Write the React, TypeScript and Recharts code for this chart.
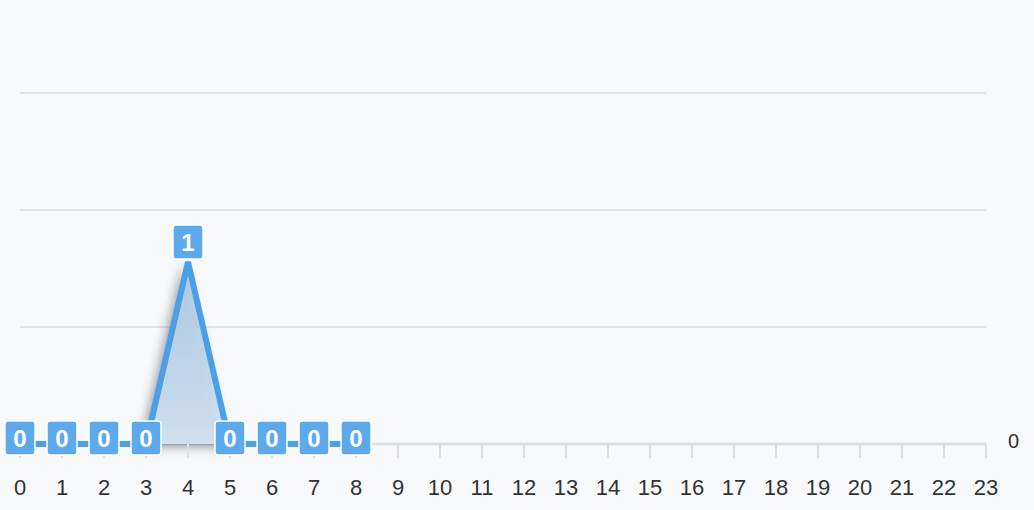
import { ComposedChart, Area, Line, XAxis, YAxis, CartesianGrid } from 'recharts'

// hour of day -> events; only the first nine hours have readings
const hours = Array.from({ length: 24 }, (_, i) => String(i))
const counts: (number | null)[] = [0, 0, 0, 0, 1, 0, 0, 0, 0]
const yTicks = [0, 0.643, 1.286, 1.929]
const baseline = [0]

const data = hours.map((h, i) => ({ hour: h, count: i < counts.length ? counts[i] : null }))

const BLUE = '#4a9fe6'
const FONT = "'Liberation Sans', Arial, sans-serif"

const ValueBadge = (props: any) => {
  const { x, y, value } = props
  if (value === null || value === undefined || x == null || y == null) return null
  const cy = value > 0 ? y - 20 : y - 6
  return (
    <g>
      <rect x={x - 15} y={cy - 17} width={30} height={34} rx={3} fill="#5ea8ec" stroke="#fff" strokeWidth={1.5} />
      <text x={x} y={cy} textAnchor="middle" dominantBaseline="central"
        fill="#fff" fontSize={24} fontWeight="bold" fontFamily={FONT}>
        {value}
      </text>
    </g>
  )
}

export default function App() {
  return (
    <div style={{ position: 'fixed', left: 0, top: 0, width: 1034, height: 510, background: '#f8f9fb' }}>
      <ComposedChart width={1034} height={510} data={data}
        margin={{ top: 93, right: 0, left: 20, bottom: 0 }}>
        <defs>
          <linearGradient id="areaFill" x1="0" y1="0" x2="0" y2="1">
            <stop offset="0%" stopColor="#a9c6e2" stopOpacity={0.9} />
            <stop offset="100%" stopColor="#cfe1f2" stopOpacity={0.95} />
          </linearGradient>
          <filter id="areaShadow" x="-80%" y="-20%" width="260%" height="140%">
            <feDropShadow dx={-5} dy={2} stdDeviation={6} floodColor="#000" floodOpacity={0.45} />
          </filter>
        </defs>
        <CartesianGrid vertical={false} stroke="#e3e4e7" strokeWidth={2} />
        {/* baseline drawn as a grid line so it sits under the series */}
        <CartesianGrid vertical={false} horizontalValues={baseline} stroke="#dedfe1" strokeWidth={3} />
        <XAxis
          dataKey="hour"
          interval={0}
          height={66}
          tickSize={14}
          tickMargin={21}
          axisLine={false}
          tickLine={{ stroke: '#dedfe1', strokeWidth: 2 }}
          tick={{ fill: '#333', fontSize: 22, fontFamily: FONT }}
        />
        <YAxis
          orientation="right"
          width={48}
          domain={[0, 1.929]}
          ticks={yTicks}
          tickFormatter={(v: number) => (v === 0 ? '0' : '')}
          axisLine={false}
          tickLine={false}
          tickSize={6}
          tickMargin={16}
          tick={{ fill: '#333', fontSize: 20, fontFamily: FONT, textAnchor: 'start', dy: -3 }}
        />
        <Area
          dataKey="count"
          type="linear"
          stroke="none"
          fill="url(#areaFill)"
          fillOpacity={1}
          style={{ filter: 'url(#areaShadow)' }}
          isAnimationActive={false}
          dot={false}
          activeDot={false}
        />
        <Line
          dataKey="count"
          type="linear"
          stroke={BLUE}
          strokeWidth={6}
          dot={false}
          activeDot={false}
          isAnimationActive={false}
          label={ValueBadge}
        />
      </ComposedChart>
    </div>
  )
}
